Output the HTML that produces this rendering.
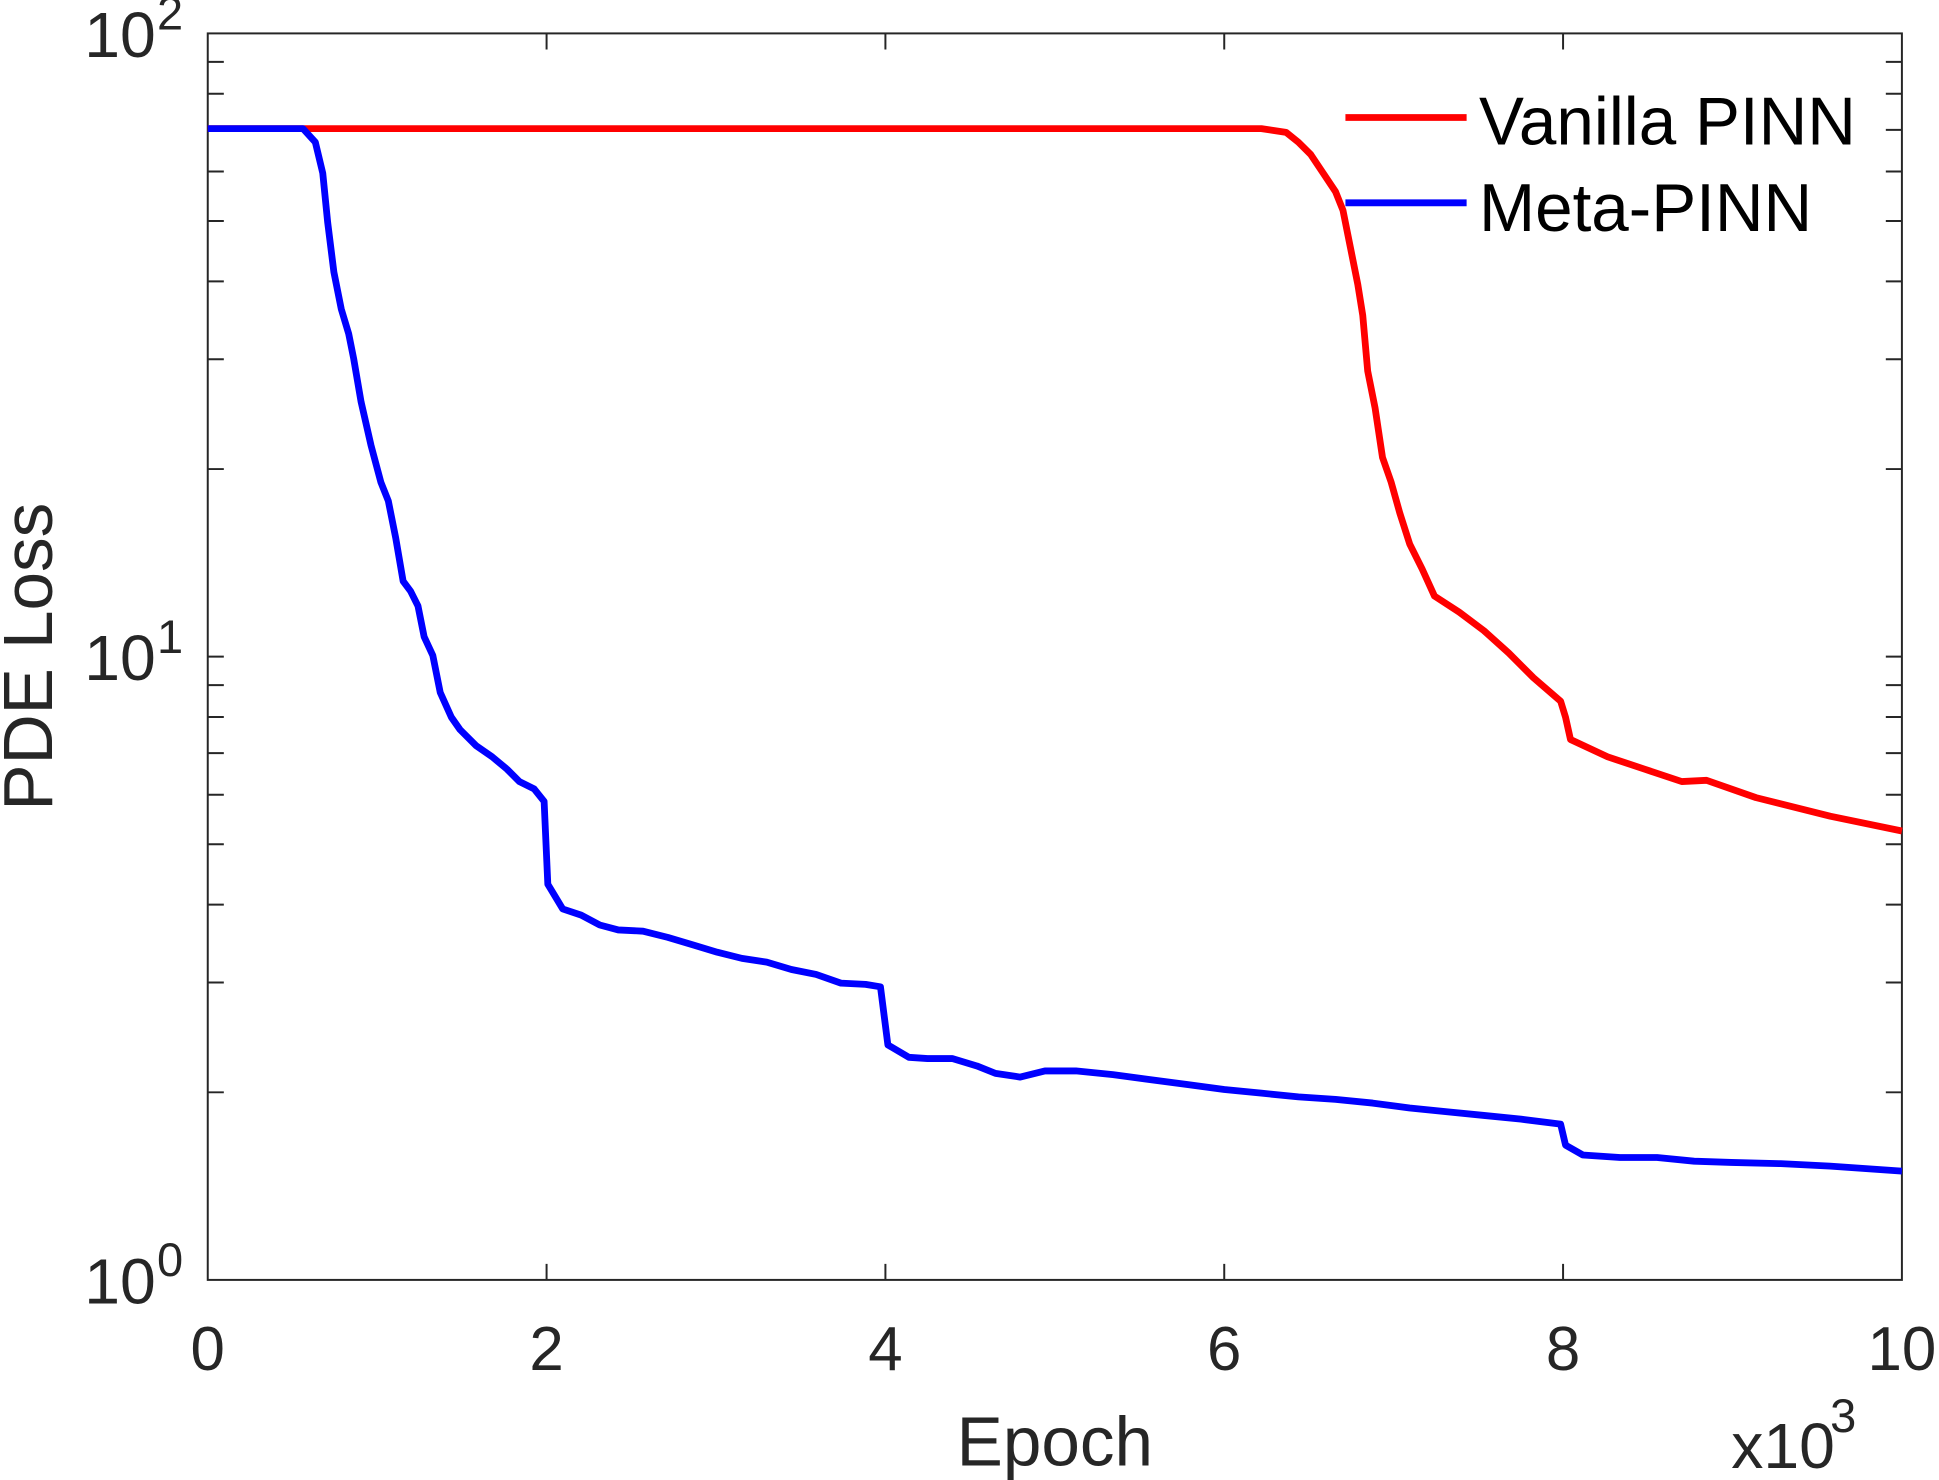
<!DOCTYPE html>
<html><head><meta charset="utf-8"><style>html,body{margin:0;padding:0;background:#fff}svg{display:block}</style></head>
<body>
<svg width="1939" height="1480" viewBox="0 0 1568 1196.8" xmlns="http://www.w3.org/2000/svg" font-family="Liberation Sans, Arial, sans-serif">
<rect width="1568" height="1197" fill="#fff"/>
<g stroke="#262626" stroke-width="1.6" fill="none">
<rect x="168" y="27" width="1370" height="1008"/>
<path d="M442,1035v-13M716,1035v-13M990,1035v-13M1264,1035v-13M442,27v13M716,27v13M990,27v13M1264,27v13"/>
<path d="M168,883.3h13M168,794.5h13M168,731.5h13M168,682.7h13M168,642.7h13M168,609h13M168,579.8h13M168,554h13M168,379.3h13M168,290.5h13M168,227.5h13M168,178.7h13M168,138.7h13M168,105h13M168,75.8h13M168,50h13"/>
<path d="M1538,883.3h-13M1538,794.5h-13M1538,731.5h-13M1538,682.7h-13M1538,642.7h-13M1538,609h-13M1538,579.8h-13M1538,554h-13M1538,531h-13M1538,379.3h-13M1538,290.5h-13M1538,227.5h-13M1538,178.7h-13M1538,138.7h-13M1538,105h-13M1538,75.8h-13M1538,50h-13M168,531h13"/>
</g>
<g fill="#262626" font-size="50" text-anchor="middle">
<text x="168" y="1108">0</text><text x="442" y="1108">2</text><text x="716" y="1108">4</text><text x="990" y="1108">6</text><text x="1264" y="1108">8</text><text x="1538" y="1108">10</text>
</g>
<g fill="#262626" font-size="52" text-anchor="end">
<text x="126" y="1054">10</text><text x="126" y="550">10</text><text x="126" y="46">10</text>
</g>
<g fill="#262626" font-size="38">
<text x="127" y="1032">0</text><text x="127" y="528">1</text><text x="127" y="24">2</text>
</g>
<text x="853" y="1185" font-size="56" fill="#262626" text-anchor="middle">Epoch</text>
<text x="1400" y="1187" font-size="52" fill="#262626">x10</text>
<text x="1480" y="1158" font-size="38" fill="#262626">3</text>
<text transform="translate(42,531) rotate(-90)" font-size="56" fill="#262626" text-anchor="middle">PDE Loss</text>
<g fill="none" stroke-width="5.5" stroke-linejoin="round">
<polyline stroke="#ff0000" points="168,104 1020,104 1040,107 1050,115 1060,125 1070,140 1080,155 1086,170 1092,200 1098,230 1102,255 1106,300 1112,330 1118,370 1125,390 1132,415 1140,440 1150,460 1160,482 1180,495 1200,510 1220,528 1240,548 1262,567 1266,580 1270,598 1300,612 1330,622 1360,632 1380,631 1420,645 1480,660 1538,672"/>
<polyline stroke="#0000ff" points="168,104 245,104 255,115 261,140 265,180 270,220 276,250 282,270 286,290 292,325 300,360 308,390 314,405 320,435 326,470 332,478 338,490 343,515 350,530 356,560 365,580 372,590 385,603 398,612 410,622 420,632 432,638 440,648 443,715 455,735 470,740 485,748 500,752 520,753 540,758 560,764 580,770 600,775 620,778 640,784 660,788 680,795 700,796 712,798 718,845 735,855 750,856 770,856 790,862 805,868 825,871 845,866 870,866 900,869 930,873 960,877 990,881 1020,884 1050,887 1080,889 1110,892 1140,896 1170,899 1200,902 1230,905 1262,909 1266,926 1280,934 1310,936 1340,936 1370,939 1400,940 1440,941 1480,943 1538,947"/>
<line x1="1088" y1="95" x2="1186" y2="95" stroke="#ff0000" stroke-width="5.5"/>
<line x1="1088" y1="164" x2="1186" y2="164" stroke="#0000ff" stroke-width="5.5"/>
</g>
<text x="1196" y="117" font-size="54.5" fill="#000">Vanilla PINN</text>
<text x="1196" y="187" font-size="54.5" fill="#000">Meta-PINN</text>
</svg>
</body></html>
